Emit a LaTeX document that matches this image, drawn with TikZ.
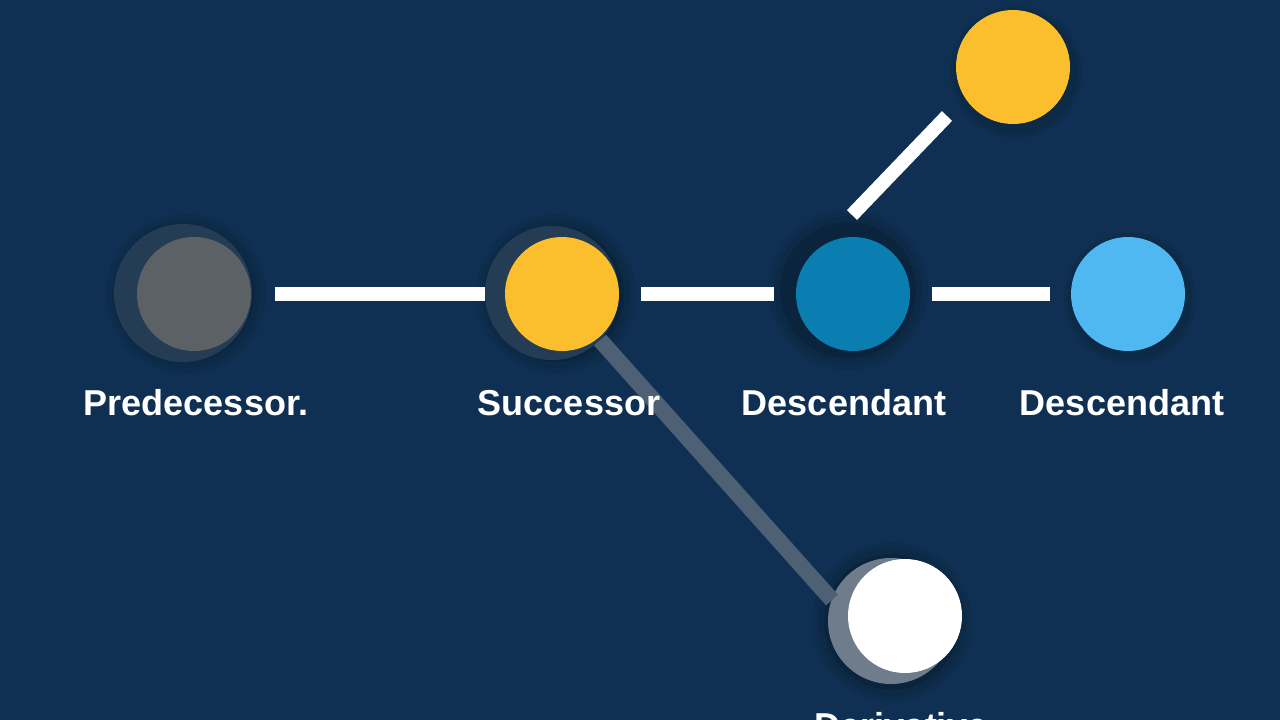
\documentclass[tikz,border=0pt]{standalone}
\usepackage{fontspec}
\setmainfont{Liberation Sans}
\begin{document}
\begin{tikzpicture}[x=1pt,y=-1pt,
  dot/.style={circle,minimum size=114pt,inner sep=0pt},
  link/.style={draw=white,line width=14pt},
  lbl/.style={text=white,font=\fontsize{36}{40}\selectfont\bfseries,anchor=base},
  halo/.style={fill=haloC},
  shade/.style={fill=black,opacity=0.18}]
\definecolor{bgC}{RGB}{15,48,82}
\definecolor{grayC}{RGB}{92,97,102}
\definecolor{yelC}{RGB}{251,191,46}
\definecolor{dblueC}{RGB}{10,125,177}
\definecolor{lblueC}{RGB}{79,184,240}
\definecolor{haloC}{RGB}{36,60,84}
\definecolor{crescC}{RGB}{110,124,140}
\definecolor{glineC}{RGB}{78,96,115}
\useasboundingbox (0,0) rectangle (1280,720);
\clip (0,0) rectangle (1280,720);
\fill[bgC] (0,0) rectangle (1280,720);
% soft shadows
\foreach \r/\o in {80/0.06,74/0.08,68/0.1}{
  \fill[black,opacity=\o] (186,294) circle (\r);
  \fill[black,opacity=\o] (556,294) circle (\r);
  \fill[black,opacity=\o] (848,290) circle (\r);
  \fill[black,opacity=\o] (892,622) circle (\r);
}
\foreach \r/\o in {66/0.06,62/0.08}{
  \fill[black,opacity=\o] (1016,72) circle (\r);
  \fill[black,opacity=\o] (1130,298) circle (\r);
}
% halos
\fill[haloC] (183,293) circle (69);
\fill[haloC] (552,293) circle (67);
\fill[crescC] (891,621) circle (63);
% nodes
\node[dot,fill=grayC] (pred) at (194,294) {};
\node[dot,fill=yelC] (succ) at (562,294) {};
\node[dot,fill=dblueC] (desc1) at (853,294) {};
\node[dot,fill=lblueC] (desc2) at (1128,294) {};
\node[dot,fill=yelC] (top) at (1013,67) {};
\coordinate (gstart) at (600,340);
\coordinate (gend) at (832,600);
% connectors
\draw[link] ([xshift=24pt]pred.east) -- ([xshift=-20pt]succ.west);
\draw[link] ([xshift=22pt]succ.east) -- ([xshift=-22pt]desc1.west);
\draw[link] ([xshift=22pt]desc1.east) -- ([xshift=-21pt]desc2.west);
\coordinate (ta) at (852,215);
\coordinate (tb) at (947,116);
\draw[link] (ta) -- (tb);
\draw[glineC,line width=16pt] (gstart) -- (gend);
\node[dot,fill=white] (deriv) at (905,616) {};
% labels
\node[lbl] (lpred) at (196,415) {Predecessor.};
\node[lbl] (lsucc) at (569,415) {Successor};
\node[lbl] (ldesc1) at (844,415) {Descendant};
\node[lbl] (ldesc2) at (1122,415) {Descendant};
\node[lbl] (lderiv) at (901,738) {Derivative};
\end{tikzpicture}
\end{document}
